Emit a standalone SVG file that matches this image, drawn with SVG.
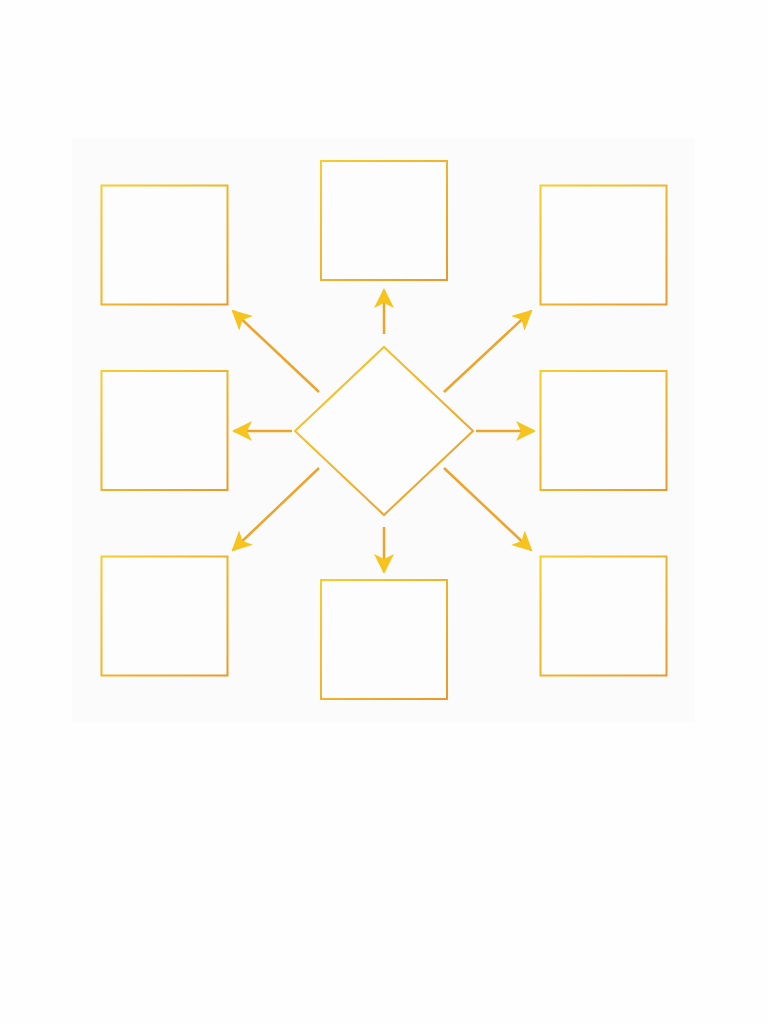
<svg xmlns="http://www.w3.org/2000/svg" width="768" height="1024" viewBox="0 0 768 1024">
<defs>
<linearGradient id="g" x1="0" y1="0" x2="1" y2="1">
<stop offset="0" stop-color="#f7cd2a"/>
<stop offset="1" stop-color="#e99a2a"/>
</linearGradient>
<marker id="ah" viewBox="0 0 20 20" refX="18" refY="10" markerWidth="20" markerHeight="20" markerUnits="userSpaceOnUse" orient="auto">
<path d="M0,0 L20,10 L0,20 L5,10 Z" fill="#f6c41c"/>
</marker>
<style>
.box{fill:#fdfdfd;stroke:url(#g);stroke-width:2}
.conn line{stroke:#eca52a;stroke-width:2.5;marker-end:url(#ah)}
</style>
</defs>
<rect x="0" y="0" width="768" height="1024" fill="#fefefe"/>
<rect x="72" y="138" width="623" height="584" fill="#fbfbfb"/>
<g id="center"><path class="box" d="M384,347 L473,431 L384,515 L295,431 Z"/></g>
<g id="n-top"><rect class="box" x="321" y="161" width="126" height="119"/></g>
<g id="n-tl"><rect class="box" x="101.5" y="185.5" width="126" height="119"/></g>
<g id="n-tr"><rect class="box" x="540.5" y="185.5" width="126" height="119"/></g>
<g id="n-ml"><rect class="box" x="101.5" y="371" width="126" height="119"/></g>
<g id="n-mr"><rect class="box" x="540.5" y="371" width="126" height="119"/></g>
<g id="n-bl"><rect class="box" x="101.5" y="556.5" width="126" height="119"/></g>
<g id="n-bottom"><rect class="box" x="321" y="580" width="126" height="119"/></g>
<g id="n-br"><rect class="box" x="540.5" y="556.5" width="126" height="119"/></g>
<g id="connectors" class="conn">
<line x1="384" y1="334" x2="384" y2="290"/>
<line x1="384" y1="527" x2="384" y2="572"/>
<line x1="292" y1="431" x2="234" y2="431"/>
<line x1="476" y1="431" x2="534" y2="431"/>
<line x1="319" y1="392" x2="233" y2="311"/>
<line x1="444" y1="392" x2="531" y2="311"/>
<line x1="319" y1="468" x2="233" y2="550"/>
<line x1="444" y1="468" x2="531" y2="550"/>
</g>
</svg>
